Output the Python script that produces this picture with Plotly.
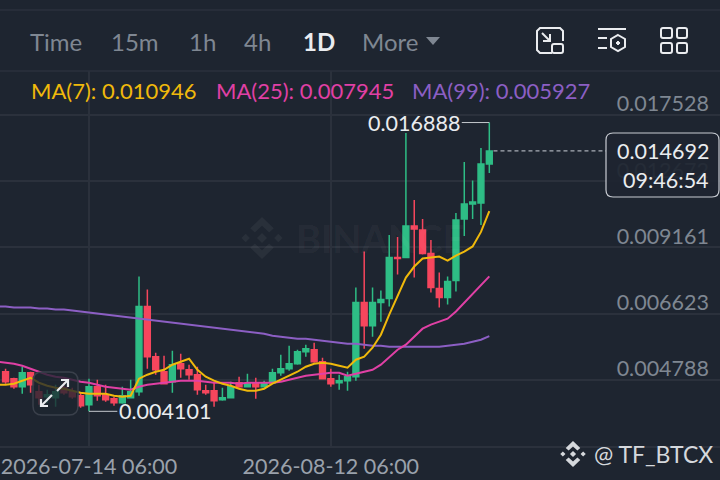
import numpy as np
import pandas as pd
import plotly.graph_objects as go

# prices are in millionths
dates = pd.date_range("2026-07-03 06:00", periods=60, freq="D")
candle_dates = dates[1:]

opens = [4979, 4812, 4627, 4955, 4515, 4406, 4384, 4604, 4515, 4427, 4236, 4627, 4449, 4363, 4278, 4384, 4515, 6854, 5359, 4979,
         4741, 5178, 5028, 4907, 4537, 4537, 4341, 4384, 4718, 4627, 4695, 4627, 4718, 4955, 5053, 5178, 5492, 5546, 5229, 4812,
         4718, 4765, 4859, 6990, 6240, 6990, 7128, 8713, 8713, 10175, 9978, 8885, 7486, 7163, 7785, 10529, 11332, 11388, 13783]
highs = [5053, 4835, 5103, 4979, 4672, 4559, 4672, 4741, 4604, 4493, 4812, 4788, 4672, 4406, 4627, 4788, 7939, 7450, 5465, 5385,
         5519, 5438, 5153, 5103, 4672, 4741, 4604, 4741, 4859, 4931, 4835, 4765, 5053, 5412, 5656, 5546, 5684, 5740, 5333, 5053,
         4907, 4979, 7523, 8973, 7523, 7413, 9736, 9641, 16042, 11556, 10529, 9501, 8096, 7939, 10844, 13919, 12718, 14906, 16888]
lows = [4695, 4582, 4471, 4493, 4236, 4278, 4195, 4449, 4363, 4175, 4101, 4320, 4299, 4216, 4257, 4384, 4427, 5053, 4907, 4695,
        4493, 4835, 4788, 4449, 4449, 4195, 4320, 4384, 4604, 4627, 4363, 4627, 4695, 4883, 5004, 5153, 5359, 5204, 4812, 4627,
        4559, 4537, 4765, 5574, 5912, 6364, 6854, 8017, 8713, 7900, 8842, 7341, 6821, 6922, 7377, 9689, 10529, 10225, 13189]
closes = [4741, 4627, 4955, 4672, 4384, 4449, 4515, 4493, 4406, 4216, 4627, 4427, 4341, 4278, 4427, 4515, 6854, 5359, 5028, 4695,
          5153, 5053, 4907, 4559, 4493, 4320, 4384, 4627, 4627, 4695, 4627, 4695, 4955, 5053, 5178, 5492, 5574, 5229, 4812, 4695,
          4765, 4859, 6990, 6240, 6990, 7093, 8713, 8671, 10175, 10027, 8885, 7523, 7163, 7747, 10478, 11332, 11444, 13783, 14692]

ma7 = [4672, 4672, 4695, 4765, 4835, 4718, 4649, 4604, 4582, 4537, 4493, 4471, 4471, 4471, 4427, 4406, 4427, 4812, 4907, 4979,
       5028, 5153, 5229, 5307, 5028, 4859, 4765, 4695, 4649, 4582, 4537, 4537, 4582, 4695, 4788, 4883, 4979, 5103, 5178, 5204,
       5178, 5128, 5078, 5281, 5359, 5601, 5970, 6586, 7234, 7900, 8338, 8671, 8713, 8756, 8586, 8799, 8973, 9200, 9880, 10946]
ma25 = [5229, 5204, 5178, 5128, 5053, 4979, 4907, 4859, 4835, 4788, 4741, 4718, 4672, 4627, 4604, 4582, 4559, 4627, 4672, 4695,
        4718, 4741, 4765, 4765, 4765, 4741, 4718, 4718, 4718, 4695, 4718, 4718, 4718, 4718, 4741, 4788, 4835, 4883, 4907, 4931,
        4955, 4955, 4883, 4931, 4979, 5028, 5153, 5359, 5546, 5684, 5912, 6149, 6271, 6364, 6458, 6688, 6990, 7305, 7597, 7945]
ma99 = [6854, 6854, 6821, 6821, 6821, 6787, 6787, 6754, 6754, 6721, 6688, 6656, 6623, 6586, 6554, 6522, 6490, 6458, 6426, 6395,
        6364, 6332, 6301, 6271, 6240, 6209, 6179, 6149, 6119, 6089, 6059, 6029, 6000, 5941, 5912, 5883, 5855, 5855, 5826, 5797,
        5769, 5740, 5712, 5712, 5684, 5656, 5656, 5629, 5629, 5629, 5629, 5629, 5629, 5629, 5656, 5684, 5712, 5769, 5826, 5927]

y_ticks = [0.017528, 0.012672, 0.009161, 0.006623, 0.004788]
y_ticktext = ["0.017528", "0.012672", "0.009161", "0.006623", "0.004788"]
x_ticks = ["2026-07-14 06:00", "2026-08-12 06:00"]
tabs = ["Time", "15m", "1h", "4h", "1D", "More"]
tab_lefts = [29, 110, 188, 243, 302, 361]

FONT = "Lato"
BG = "#1e2530"
GRID = "#2b313c"
GREEN = "#2ebd85"
RED = "#f6465d"
YELLOW = "#f0b90b"
PINK = "#e040a5"
PURPLE = "#8c5fc4"
GREY = "#7f8792"
WHITE = "#eaecef"


def scaled(values):
    return [v / 1e6 for v in values]


# screen pixels to paper coordinates, for the app chrome round the chart
def px(x):
    return x / 720


def py(y):
    return 1 - y / 446


def path_of(points, closed=False):
    s = " ".join(f"{'M' if i == 0 else 'L'} {px(x):.5f} {py(y):.5f}" for i, (x, y) in enumerate(points))
    return s + (" Z" if closed else "")


def round_rect(x0, y0, x1, y1, r):
    return (
        f"M {px(x0 + r):.5f} {py(y0):.5f} L {px(x1 - r):.5f} {py(y0):.5f} "
        f"Q {px(x1):.5f} {py(y0):.5f} {px(x1):.5f} {py(y0 + r):.5f} "
        f"L {px(x1):.5f} {py(y1 - r):.5f} Q {px(x1):.5f} {py(y1):.5f} {px(x1 - r):.5f} {py(y1):.5f} "
        f"L {px(x0 + r):.5f} {py(y1):.5f} Q {px(x0):.5f} {py(y1):.5f} {px(x0):.5f} {py(y1 - r):.5f} "
        f"L {px(x0):.5f} {py(y0 + r):.5f} Q {px(x0):.5f} {py(y0):.5f} {px(x0 + r):.5f} {py(y0):.5f} Z"
    )


def add_path(fig, path, color=WHITE, width=2, fill=None):
    fig.add_shape(
        type="path", xref="paper", yref="paper", path=path,
        line=dict(color=color, width=width), fillcolor=fill,
    )


def add_logo(fig, cx, cy, s, color):
    # binance mark: small diamonds and two chevrons
    for dx, dy, r in [(0, 0, 0.24), (-0.78, 0, 0.2), (0.78, 0, 0.2)]:
        c = (cx + dx * s, cy + dy * s)
        pts = [(c[0], c[1] - r * s), (c[0] + r * s, c[1]), (c[0], c[1] + r * s), (c[0] - r * s, c[1])]
        add_path(fig, path_of(pts, True), color, 0, color)
    for sign in (-1, 1):
        pts = [
            (cx, cy + sign * 1.0 * s), (cx + 0.56 * s, cy + sign * 0.46 * s), (cx + 0.34 * s, cy + sign * 0.26 * s),
            (cx, cy + sign * 0.58 * s), (cx - 0.34 * s, cy + sign * 0.26 * s), (cx - 0.56 * s, cy + sign * 0.46 * s),
        ]
        add_path(fig, path_of(pts, True), color, 0, color)


def add_text(fig, x, y, text, color, size, anchor="left", weight=None):
    fig.add_annotation(
        xref="paper", yref="paper", x=px(x), y=py(y), text=text, showarrow=False,
        xanchor=anchor, yanchor="middle", font=dict(family=FONT, size=size, color=color, weight=weight),
        borderpad=0,
    )


fig = go.Figure()

fig.add_trace(
    go.Candlestick(
        x=candle_dates, open=scaled(opens), high=scaled(highs), low=scaled(lows), close=scaled(closes),
        increasing=dict(line=dict(color=GREEN, width=1.5), fillcolor=GREEN),
        decreasing=dict(line=dict(color=RED, width=1.5), fillcolor=RED),
    )
)

# the moving averages sit over the candles
for values, color in [(ma99, PURPLE), (ma25, PINK), (ma7, YELLOW)]:
    fig.add_trace(go.Scatter(x=dates, y=scaled(values), mode="lines", line=dict(color=color, width=2), hoverinfo="skip"))

last_date = candle_dates[-1]
fig.add_trace(
    go.Scatter(
        x=[last_date + pd.Timedelta(hours=12), last_date + pd.Timedelta(days=14)], y=[closes[-1] / 1e6] * 2,
        mode="lines", line=dict(color="#a9aeb6", width=1.2, dash="4px,3px"), hoverinfo="skip",
    )
)

# leader lines of the highest and lowest price
low_i = int(np.argmin(lows))
fig.add_trace(
    go.Scatter(
        x=[last_date, last_date - pd.Timedelta(days=3.3)], y=[max(highs) / 1e6] * 2,
        mode="lines", line=dict(color="#c4c8cd", width=1), hoverinfo="skip",
    )
)
fig.add_trace(
    go.Scatter(
        x=[candle_dates[low_i], candle_dates[low_i] + pd.Timedelta(days=3.4)], y=[min(lows) / 1e6] * 2,
        mode="lines", line=dict(color="#c4c8cd", width=1), hoverinfo="skip",
    )
)
fig.add_annotation(
    x=last_date - pd.Timedelta(days=3.3), y=np.log10(max(highs) / 1e6), text=f"{max(highs) / 1e6:.6f}",
    showarrow=False, xanchor="right", yanchor="middle", font=dict(family=FONT, size=21.5, color=WHITE),
)
fig.add_annotation(
    x=candle_dates[low_i] + pd.Timedelta(days=3.4), y=np.log10(min(lows) / 1e6), text=f"{min(lows) / 1e6:.6f}",
    showarrow=False, xanchor="left", yanchor="middle", font=dict(family=FONT, size=21.5, color=WHITE),
)

# header
add_path(fig, f"M {px(0)} {py(0)} L {px(720)} {py(0)} L {px(720)} {py(71)} L {px(0)} {py(71)} Z", BG, 0, BG)
for y in (10, 71):
    add_path(fig, path_of([(0, y), (720, y)]), GRID, 1.5)
for text, left in zip(tabs, tab_lefts):
    active = text == "1D"
    add_text(fig, left, 41, text, WHITE if active else GREY, 24, weight=700 if active else None)
add_path(fig, path_of([(426, 37), (440, 37), (433, 45)], True), GREY, 0, GREY)

add_text(fig, 30, 90, "MA(7): 0.010946", YELLOW, 22)
add_text(fig, 215, 90, "MA(25): 0.007945", PINK, 22)
add_text(fig, 411, 90, "MA(99): 0.005927", PURPLE, 22)

# toolbar icons
add_path(fig, path_of([(552, 53), (540, 53), (537, 50), (537, 31), (540, 28), (560, 28), (563, 31), (563, 41)]))
add_path(fig, round_rect(552, 44, 563, 53, 2))
add_path(fig, path_of([(542, 33), (550, 41)]))
add_path(fig, path_of([(550, 34), (550, 41), (543, 41)]))
add_path(fig, path_of([(598, 29), (626, 29)]))
add_path(fig, path_of([(598, 38), (607, 38)]))
add_path(fig, path_of([(598, 48), (607, 48)]))
add_path(fig, path_of([(618, 35), (625, 39), (625, 47), (618, 51), (611, 47), (611, 39)], True))
add_path(fig, path_of([(618, 41), (620, 43), (618, 45), (616, 43)], True), WHITE, 1, WHITE)
for x0, x1 in [(661, 672), (677, 687)]:
    for y0, y1 in [(28, 38), (43, 53)]:
        add_path(fig, round_rect(x0, y0, x1, y1, 2))

# price box on the right
add_path(fig, round_rect(606, 133, 719, 197, 7), "#c8ccd2", 1.2, "rgba(30,37,48,0.93)")
add_text(fig, 710, 151, f"{closes[-1] / 1e6:.6f}", WHITE, 21.5, "right")
add_text(fig, 710, 180, "09:46:54", WHITE, 21.5, "right")

# expand button over the candles
add_path(fig, round_rect(33, 372, 78, 415, 9), "#3a404b", 1.5, "rgba(30,37,48,0.78)")
for a, b, c, d in [
    ((41, 406), (52, 395), (41, 399), (48, 406)),
    ((68, 380), (57, 391), (68, 387), (61, 380)),
]:
    add_path(fig, path_of([a, b]), WHITE, 2.2)
    add_path(fig, path_of([c, a, d]), WHITE, 2.2)

# watermarks
add_logo(fig, 262, 238, 21, "rgba(255,255,255,0.05)")
add_text(fig, 295, 238, "BINANCE", "rgba(255,255,255,0.05)", 38, weight=700)
add_logo(fig, 573, 454, 13, "#d5d8dc")
add_text(fig, 593, 454, "@ TF_BTCX", "#d5d8dc", 23)

fig.update_layout(
    width=720, height=480, margin=dict(l=0, r=0, t=0, b=34), showlegend=False,
    paper_bgcolor=BG, plot_bgcolor=BG, hovermode=False, boxgap=0.3, boxgroupgap=0,
    xaxis=dict(
        type="date", range=["2026-07-03 14:00", "2026-09-27 21:50"], rangeslider=dict(visible=False),
        tickmode="array", tickvals=x_ticks, ticktext=x_ticks, ticks="",
        tickfont=dict(family=FONT, size=21.5, color="#9aa1ab"),
        showgrid=True, gridcolor=GRID, gridwidth=1.5, showline=True, linecolor=GRID, linewidth=1.5,
        zeroline=False, automargin=False,
    ),
    yaxis=dict(
        type="log", range=[np.log10(0.00346), np.log10(0.03079)], side="right",
        tickmode="array", tickvals=y_ticks, ticktext=y_ticktext, ticks="",
        ticklabelposition="inside", ticklabelstandoff=8, ticklabelshift=-11,
        tickfont=dict(family=FONT, size=21.5, color=GREY),
        showgrid=True, gridcolor=GRID, gridwidth=1.5, zeroline=False, automargin=False,
    ),
)

# the page's default margin would push the chart 8px in
fig.write_html(
    "out.html",
    config={"displayModeBar": False},
    post_script="document.body.style.margin='0';document.body.style.overflow='hidden';",
)
